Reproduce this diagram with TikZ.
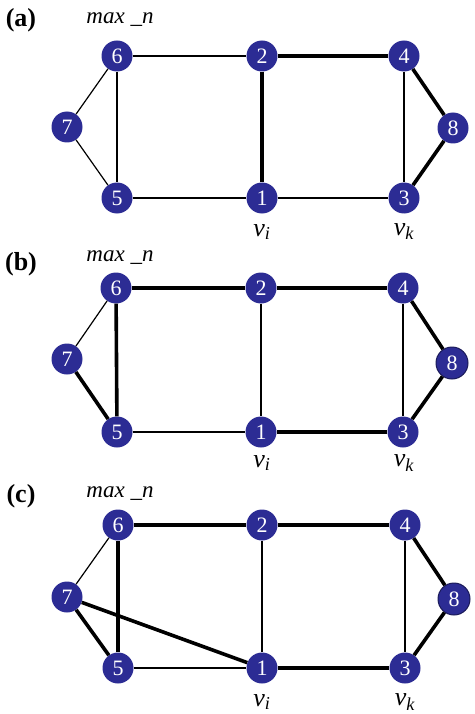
\documentclass[tikz,border=0pt]{standalone}
\usepackage{fontspec}
\setmainfont{Liberation Serif}
\begin{document}
\begin{tikzpicture}[x=1pt,y=-1pt,
  vtx/.style={circle,fill=nodeblue,minimum size=31pt,inner sep=0pt,text=white,font=\fontsize{22}{22}\selectfont},
  vtxo/.style={vtx,draw=nodeblue!60!black,line width=1pt,minimum size=32pt},
  thin/.style={draw=black,line width=1.2pt},
  thick/.style={draw=black,line width=3.6pt},
  plabel/.style={font=\fontsize{26}{26}\selectfont\bfseries},
  mlabel/.style={font=\fontsize{23}{23}\selectfont\itshape},
  vlabel/.style={font=\fontsize{26}{26}\selectfont\itshape}]
\definecolor{nodeblue}{RGB}{44,44,148}
\useasboundingbox (0,0) rectangle (474,714);
% ---- panel (a)
\node[plabel] (la) at (21,20) {(a)};
\node[mlabel] (ma) at (120,20) {max \_n};
\node[vtx] (a6) at (117,56) {6};
\node[vtx] (a2) at (262,56) {2};
\node[vtx] (a4) at (404,56) {4};
\node[vtx] (a7) at (67,127) {7};
\node[vtx] (a8) at (453,128) {8};
\node[vtx] (a5) at (117,198) {5};
\node[vtx] (a1) at (262,198) {1};
\node[vtx] (a3) at (404,198) {3};
\node[vlabel] (via) at (262,232) {v\textsubscript{i}};
\node[vlabel] (vka) at (404,232) {v\textsubscript{k}};
% ---- panel (b)
\node[plabel] (lb) at (21,264) {(b)};
\node[mlabel] (mb) at (120,258) {max \_n};
\node[vtx] (b6) at (116,288) {6};
\node[vtx] (b2) at (261,288) {2};
\node[vtx] (b4) at (403,288) {4};
\node[vtx] (b7) at (67,359) {7};
\node[vtxo] (b8) at (452,363) {8};
\node[vtx] (b5) at (117,432) {5};
\node[vtx] (b1) at (261,432) {1};
\node[vtx] (b3) at (403,432) {3};
\node[vlabel] (vib) at (262,463) {v\textsubscript{i}};
\node[vlabel] (vkb) at (404,463) {v\textsubscript{k}};
% ---- panel (c)
\node[plabel] (lc) at (21,496) {(c)};
\node[mlabel] (mc) at (120,494) {max \_n};
\node[vtx] (c6) at (118,525) {6};
\node[vtx] (c2) at (262,525) {2};
\node[vtx] (c4) at (405,525) {4};
\node[vtx] (c7) at (67,597) {7};
\node[vtxo] (c8) at (454,599) {8};
\node[vtx] (c5) at (118,668) {5};
\node[vtx] (c1) at (262,668) {1};
\node[vtx] (c3) at (405,668) {3};
\node[vlabel] (vic) at (262,702) {v\textsubscript{i}};
\node[vlabel] (vkc) at (405,702) {v\textsubscript{k}};
% edges (a)
\draw[thin] (a6) -- (a2);
\draw[thin] (a6) -- (a5);
\draw[thin] (a7) -- (a6);
\draw[thin] (a7) -- (a5);
\draw[thin] (a5) -- (a1);
\draw[thin] (a1) -- (a3);
\draw[thin] (a4) -- (a3);
\draw[thick] (a2) -- (a1);
\draw[thick] (a2) -- (a4);
\draw[thick] (a4) -- (a8);
\draw[thick] (a8) -- (a3);
% edges (b)
\draw[thin] (b7) -- (b6);
\draw[thin] (b2) -- (b1);
\draw[thin] (b4) -- (b3);
\draw[thin] (b5) -- (b1);
\draw[thick] (b6) -- (b2);
\draw[thick] (b2) -- (b4);
\draw[thick] (b4) -- (b8);
\draw[thick] (b8) -- (b3);
\draw[thick] (b3) -- (b1);
\draw[thick] (b6) -- (b5);
\draw[thick] (b7) -- (b5);
% edges (c)
\draw[thin] (c7) -- (c6);
\draw[thin] (c2) -- (c1);
\draw[thin] (c4) -- (c3);
\draw[thin] (c5) -- (c1);
\draw[thick] (c6) -- (c2);
\draw[thick] (c2) -- (c4);
\draw[thick] (c4) -- (c8);
\draw[thick] (c8) -- (c3);
\draw[thick] (c1) -- (c3);
\draw[thick] (c6) -- (c5);
\draw[thick] (c7) -- (c5);
\draw[thick] (c7) -- (c1);
\end{tikzpicture}
\end{document}
